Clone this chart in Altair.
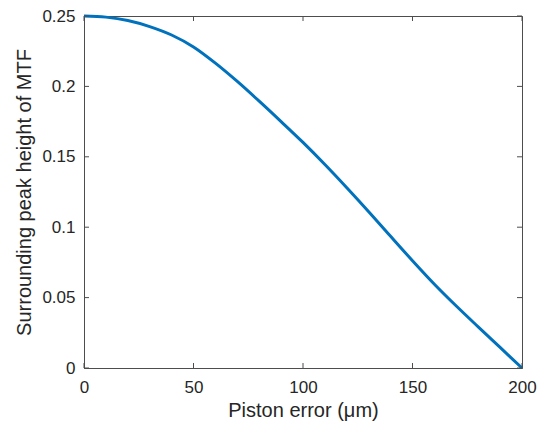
import altair as alt
import pandas as pd

# Data
piston_error = [0, 10, 20, 30, 40, 50, 60, 70, 80, 90, 100,
                110, 120, 130, 140, 150, 160, 170, 180, 190, 200]
peak_height = [0.2500, 0.2492, 0.2468, 0.2425, 0.2365, 0.2280, 0.2165, 0.2035, 0.1895, 0.1750, 0.1602,
               0.1445, 0.1280, 0.1110, 0.0935, 0.0762, 0.0595, 0.0440, 0.0292, 0.0146, 0.0]
x_ticks = [0, 50, 100, 150, 200]
y_ticks = [0, 0.05, 0.1, 0.15, 0.2, 0.25]

W, H = 438, 352
TICK = 5
AXIS_COLOR = "#4d4d4d"
TEXT_COLOR = "#262626"
FONT = "Liberation Sans"

df = pd.DataFrame({"x": piston_error, "y": peak_height})
xt = pd.DataFrame({"x": x_ticks})
yt = pd.DataFrame({"y": y_ticks})

xs = alt.Scale(domain=[0, 200], nice=False, zero=False)
ys = alt.Scale(domain=[0, 0.25], nice=False, zero=False)

line = alt.Chart(df).mark_line(color="#0072BD", strokeWidth=3, interpolate="monotone").encode(
    x=alt.X("x:Q", scale=xs, axis=alt.Axis(
        title="Piston error (μm)", values=x_ticks, ticks=False, labelPadding=11,
        labelFlush=False, titlePadding=5, grid=False, format="d")),
    y=alt.Y("y:Q", scale=ys, axis=alt.Axis(
        title="Surrounding peak height of MTF", values=y_ticks, ticks=False, labelPadding=9,
        labelFlush=False, titlePadding=7, grid=False, format="~g")),
)

tick_style = dict(color=AXIS_COLOR, strokeWidth=1)
bottom_ticks = alt.Chart(xt).mark_rule(**tick_style).encode(
    x=alt.X("x:Q", scale=xs), y=alt.value(H), y2=alt.value(H - TICK))
top_ticks = alt.Chart(xt).mark_rule(**tick_style).encode(
    x=alt.X("x:Q", scale=xs), y=alt.value(0), y2=alt.value(TICK))
left_ticks = alt.Chart(yt).mark_rule(**tick_style).encode(
    y=alt.Y("y:Q", scale=ys), x=alt.value(0), x2=alt.value(TICK))
right_ticks = alt.Chart(yt).mark_rule(**tick_style).encode(
    y=alt.Y("y:Q", scale=ys), x=alt.value(W), x2=alt.value(W - TICK))

chart = alt.layer(line, bottom_ticks, top_ticks, left_ticks, right_ticks).properties(
    width=W, height=H,
    background="white",
    autosize=alt.AutoSizeParams(type="none"),
    padding={"left": 76, "top": 8, "right": 20, "bottom": 55},
).configure_view(
    stroke=AXIS_COLOR, strokeWidth=1
).configure_axis(
    domainColor=AXIS_COLOR, domainWidth=1,
    labelFont=FONT, labelFontSize=17, labelColor=TEXT_COLOR,
    titleFont=FONT, titleFontSize=20, titleColor=TEXT_COLOR, titleFontWeight="normal",
)

chart.save("out.html", embed_options={"renderer": "svg", "actions": False})
